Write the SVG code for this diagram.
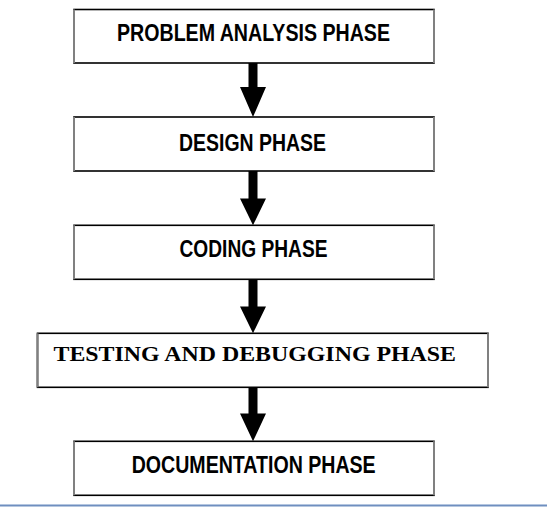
<svg xmlns="http://www.w3.org/2000/svg" width="547" height="507" viewBox="0 0 547 507">
<style>
.box{fill:#fff;stroke:#000;stroke-width:1.6}
.side{stroke:#808080;stroke-width:2}
.sans{font-family:"Liberation Sans",Arial,sans-serif;font-weight:bold;font-size:23px;fill:#000}
.serif{font-family:"Liberation Serif","Times New Roman",serif;font-weight:bold;font-size:21px;fill:#000}
.arrow{fill:#000}
</style>
<rect x="0" y="0" width="547" height="507" fill="#fff"/>
<g id="node-problem">
<rect class="box" x="74" y="9.5" width="360" height="53.5"/>
<line class="side" x1="74" y1="9.5" x2="74" y2="63"/><line class="side" x1="434" y1="9.5" x2="434" y2="63"/>
<text class="sans" x="117" y="40.5" textLength="273" lengthAdjust="spacingAndGlyphs">PROBLEM ANALYSIS PHASE</text>
</g>
<g id="node-design">
<rect class="box" x="74" y="117" width="360" height="54"/>
<line class="side" x1="74" y1="117" x2="74" y2="171"/><line class="side" x1="434" y1="117" x2="434" y2="171"/>
<text class="sans" x="179" y="150.5" textLength="147" lengthAdjust="spacingAndGlyphs">DESIGN PHASE</text>
</g>
<g id="node-coding">
<rect class="box" x="74" y="225.3" width="360" height="54"/>
<line class="side" x1="74" y1="225.3" x2="74" y2="279.3"/><line class="side" x1="434" y1="225.3" x2="434" y2="279.3"/>
<text class="sans" x="179.5" y="257.3" textLength="148" lengthAdjust="spacingAndGlyphs">CODING PHASE</text>
</g>
<g id="node-testing">
<rect class="box" x="37.5" y="333.3" width="450.5" height="54"/>
<line class="side" x1="37.5" y1="333.3" x2="37.5" y2="387.3"/><line class="side" x1="488" y1="333.3" x2="488" y2="387.3"/>
<text class="serif" x="53.5" y="361" textLength="402.5" lengthAdjust="spacingAndGlyphs">TESTING AND DEBUGGING PHASE</text>
</g>
<g id="node-documentation">
<rect class="box" x="74" y="441.3" width="360" height="54"/>
<line class="side" x1="74" y1="441.3" x2="74" y2="495.3"/><line class="side" x1="434" y1="441.3" x2="434" y2="495.3"/>
<text class="sans" x="131.7" y="473.3" textLength="244" lengthAdjust="spacingAndGlyphs">DOCUMENTATION PHASE</text>
</g>
<g id="connectors">
<polygon class="arrow" points="248.5,63 257.5,63 257.5,87 266,87 253,117 240,87 248.5,87"/>
<polygon class="arrow" points="248.5,171 257.5,171 257.5,198.5 266,198.5 253,225.3 240,198.5 248.5,198.5"/>
<polygon class="arrow" points="248.5,279.3 257.5,279.3 257.5,306.5 266,306.5 253,333.3 240,306.5 248.5,306.5"/>
<polygon class="arrow" points="248.5,387.3 257.5,387.3 257.5,413.5 266,413.5 253,441.3 240,413.5 248.5,413.5"/>
</g>
<rect x="0" y="504" width="547" height="1" fill="#b4c6e0"/>
<rect x="0" y="505" width="547" height="1.5" fill="#6f8fbf"/>
</svg>
